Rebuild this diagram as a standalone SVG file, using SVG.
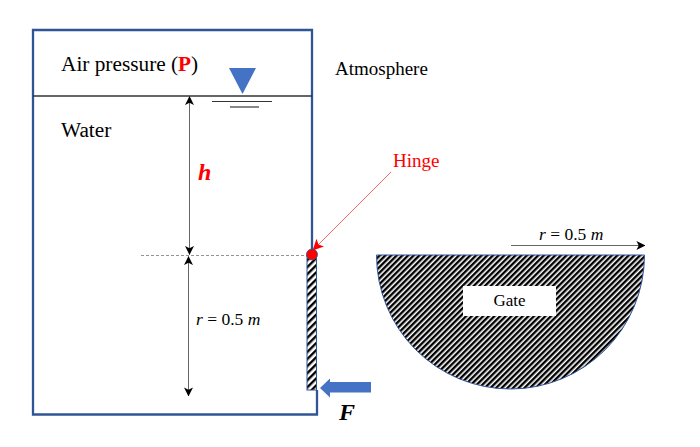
<svg xmlns="http://www.w3.org/2000/svg" width="700" height="447" viewBox="0 0 700 447">
<style>
text{font-family:"Liberation Serif","Times New Roman",serif;fill:#000}
.b{font-size:21.300px}
.s{font-size:17.500px}
.i{font-style:italic}
.dim{stroke:#666;stroke-width:1;fill:none;marker-start:url(#ah);marker-end:url(#ah)}
</style>
<defs>
<pattern id="hatch" width="4" height="4" patternUnits="userSpaceOnUse" patternTransform="rotate(-45)">
<rect width="4" height="4" fill="#fff"/><rect width="4" height="2.400" fill="#000"/>
</pattern>
<pattern id="hatch2" width="5" height="5" patternUnits="userSpaceOnUse" patternTransform="rotate(-45)">
<rect width="5" height="5" fill="#fff"/><rect width="5" height="2.400" fill="#000"/>
</pattern>
<marker id="ah" viewBox="0 0 10 10" refX="9.500" refY="5" markerWidth="9" markerHeight="9" markerUnits="userSpaceOnUse" orient="auto-start-reverse">
<path d="M0 0L10 5L0 10L2.500 5Z" fill="#000"/>
</marker>
<marker id="ar" viewBox="0 0 10 10" refX="9.500" refY="5" markerWidth="11" markerHeight="11" markerUnits="userSpaceOnUse" orient="auto">
<path d="M0 0L10 5L0 10L2.500 5Z" fill="#f00"/>
</marker>
</defs>
<g id="tank">
<path d="M312 255V30H33V414.500H317V390" fill="none" stroke="#2f5597" stroke-width="2.300"/>
<line x1="33" y1="96" x2="312" y2="96" stroke="#333" stroke-width="1.300"/>
</g>
<g id="water-level">
<path d="M229 68H256L242.500 94Z" fill="#4472c4"/>
<line x1="212" y1="101.500" x2="272" y2="101.500" stroke="#333" stroke-width="1"/>
<line x1="230" y1="107" x2="259" y2="107" stroke="#111" stroke-width="1"/>
</g>
<g id="connectors">
<line x1="141" y1="255.500" x2="307" y2="255.500" stroke="#777" stroke-width="0.800" stroke-dasharray="3 2"/>
<line class="dim" x1="189.500" y1="96.500" x2="189.500" y2="254.500"/>
<line class="dim" x1="188.500" y1="256.500" x2="188.500" y2="396"/>
<line x1="511" y1="245.500" x2="645" y2="245.500" stroke="#666" stroke-width="1" marker-end="url(#ah)"/>
<line x1="391" y1="172" x2="313" y2="250" stroke="#f00" stroke-width="0.600" marker-end="url(#ar)"/>
</g>
<g id="gate-side">
<rect x="307" y="255" width="9.500" height="135" fill="url(#hatch2)" stroke="#2f5597" stroke-width="1"/>
</g>
<g id="hinge">
<circle cx="312" cy="254.500" r="5.500" fill="#f00" stroke="#2f5597" stroke-width="0.800"/>
</g>
<g id="force">
<path d="M320 388L330 378.500V382H371V392.500H330V397.500Z" fill="#4472c4"/>
<text x="339" y="420" font-size="24" font-weight="bold" font-style="italic">F</text>
</g>
<g id="gate">
<path d="M376.500 255H644.500A134 134 0 0 1 376.500 255Z" fill="url(#hatch)" stroke="#2f5597" stroke-width="1"/>
<rect x="463" y="286" width="93" height="30" fill="#fff"/>
<text x="509.500" y="306" font-size="17" text-anchor="middle">Gate</text>
</g>
<g id="labels">
<text x="61" y="71" class="b">Air pressure (<tspan style="fill:#f00" font-weight="bold">P</tspan>)</text>
<text x="61" y="137" class="b">Water</text>
<text x="335" y="75" font-size="19">Atmosphere</text>
<text x="393" y="167" font-size="19" style="fill:#f00">Hinge</text>
<text x="198" y="180" font-size="24" font-weight="bold" font-style="italic" style="fill:#f00">h</text>
<text x="196" y="325" class="s"><tspan class="i">r</tspan> = 0.5 <tspan class="i">m</tspan></text>
<text x="539" y="240" class="s"><tspan class="i">r</tspan> = 0.5 <tspan class="i">m</tspan></text>
</g>
</svg>
